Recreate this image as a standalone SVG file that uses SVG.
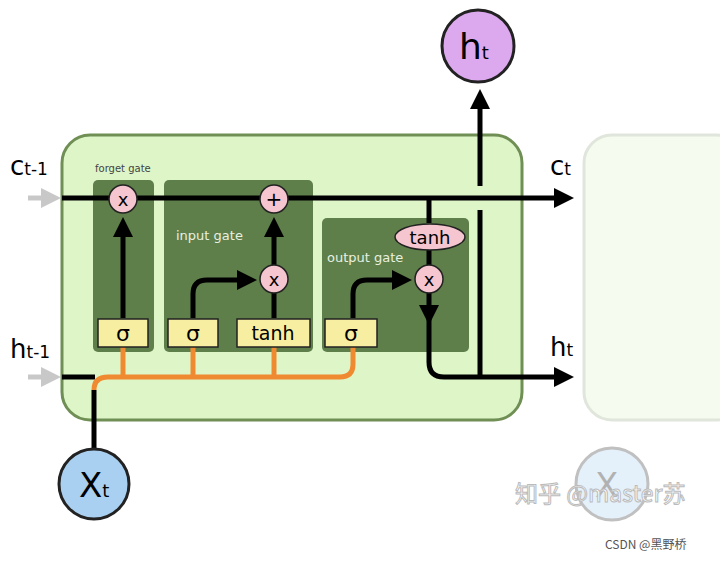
<svg xmlns="http://www.w3.org/2000/svg" width="720" height="562" viewBox="0 0 720 562">
<defs>
<marker id="ah" markerWidth="4" markerHeight="4" refX="2.2" refY="2" orient="auto" markerUnits="strokeWidth"><path d="M0,0 L4,2 L0,4 z" fill="#000"/></marker>
<marker id="ag" markerWidth="4" markerHeight="4" refX="2.2" refY="2" orient="auto" markerUnits="strokeWidth"><path d="M0,0 L4,2 L0,4 z" fill="#c8c8c8"/></marker>
</defs>
<style>
.t{font-family:"DejaVu Sans","Noto Sans",sans-serif}
.panel{fill:#5f7f4a}
.op{fill:#f5c6cf;stroke:#222;stroke-width:1.5}
.box{fill:#f7eea2;stroke:#222;stroke-width:1.5}
.k{stroke:#000;stroke-width:5;fill:none}
.o{stroke:#f08a30;stroke-width:5;fill:none}
.lbl{font-size:13px;fill:#e8f0e0}
</style>
<rect width="720" height="562" fill="#fff"/>
<g id="next" opacity="0.3">
<rect x="584" y="135" width="160" height="285" rx="28" fill="#dff5c8" stroke="#9ab08a" stroke-width="3"/>
<circle cx="612" cy="484" r="36" fill="#a9d0f0" stroke="#333" stroke-width="3"/>
<text class="t" x="595" y="497" font-size="34">X</text>
</g>
<g id="cell">
<rect x="62" y="135" width="460" height="285" rx="28" fill="#def5c8" stroke="#6f8f55" stroke-width="3"/>
<rect class="panel" x="93" y="180" width="61" height="172" rx="5"/>
<rect class="panel" x="164" y="180" width="149" height="172" rx="5"/>
<rect class="panel" x="322" y="218" width="147" height="134" rx="5"/>
<text class="t" x="95" y="172" font-size="10" fill="#444">forget gate</text>
<text class="t lbl" x="176" y="240">input gate</text>
<text class="t lbl" x="327" y="262">output gate</text>
</g>
<g id="connectors">
<line class="k" x1="62" y1="198" x2="565" y2="198" marker-end="url(#ah)"/>
<line x1="28" y1="198" x2="52" y2="198" stroke="#c8c8c8" stroke-width="5" marker-end="url(#ag)"/>
<line x1="28" y1="377" x2="52" y2="377" stroke="#c8c8c8" stroke-width="5" marker-end="url(#ag)"/>
<line class="k" x1="62" y1="377" x2="95" y2="377"/>
<line class="k" x1="123" y1="318" x2="123" y2="226" marker-end="url(#ah)"/>
<path class="k" d="M193,318 V294 Q193,280 207,280 H248" marker-end="url(#ah)"/>
<line class="k" x1="274" y1="318" x2="274" y2="293"/>
<line class="k" x1="274" y1="265" x2="274" y2="226" marker-end="url(#ah)"/>
<path class="k" d="M353,318 V294 Q353,280 367,280 H403" marker-end="url(#ah)"/>
<line class="k" x1="429" y1="198" x2="429" y2="223"/>
<line class="k" x1="429" y1="249" x2="429" y2="265"/>
<line class="k" x1="429" y1="293" x2="429" y2="316" marker-end="url(#ah)"/>
<path class="k" d="M429,316 V362 Q429,377 444,377 H565" marker-end="url(#ah)"/>
<line class="k" x1="480" y1="377" x2="480" y2="210"/>
<line class="k" x1="480" y1="186" x2="480" y2="98" marker-end="url(#ah)"/>
<line class="k" x1="94" y1="448" x2="94" y2="390"/>
<path class="o" d="M94,390 Q94,377 108,377 H340 Q353,377 353,364 V346"/>
<line class="o" x1="123" y1="377" x2="123" y2="346"/>
<line class="o" x1="193" y1="377" x2="193" y2="346"/>
<line class="o" x1="274" y1="377" x2="274" y2="346"/>
</g>
<g id="ops">
<circle class="op" cx="123" cy="199" r="14"/><text class="t" x="123" y="206" font-size="18" text-anchor="middle">x</text>
<circle class="op" cx="274" cy="199" r="14"/><text class="t" x="274" y="206" font-size="20" text-anchor="middle">+</text>
<circle class="op" cx="274" cy="279" r="14"/><text class="t" x="274" y="286" font-size="18" text-anchor="middle">x</text>
<circle class="op" cx="429" cy="279" r="14"/><text class="t" x="429" y="286" font-size="18" text-anchor="middle">x</text>
<ellipse class="op" cx="430" cy="237" rx="35" ry="13"/><text class="t" x="430" y="244" font-size="18" text-anchor="middle">tanh</text>
</g>
<g id="boxes">
<rect class="box" x="98" y="319" width="50" height="28"/><text class="t" x="123" y="341" font-size="22" text-anchor="middle">σ</text>
<rect class="box" x="168" y="319" width="50" height="28"/><text class="t" x="193" y="341" font-size="22" text-anchor="middle">σ</text>
<rect class="box" x="237" y="319" width="73" height="28"/><text class="t" x="273" y="340" font-size="19" text-anchor="middle">tanh</text>
<rect class="box" x="325" y="319" width="52" height="28"/><text class="t" x="351" y="341" font-size="22" text-anchor="middle">σ</text>
</g>
<g id="xt">
<circle cx="94" cy="484" r="35" fill="#a9d0f0" stroke="#222" stroke-width="3"/>
<text class="t" x="79" y="497" font-size="34">X<tspan font-size="18">t</tspan></text>
</g>
<g id="ht">
<circle cx="478" cy="46" r="36" fill="#dca8ee" stroke="#222" stroke-width="3"/>
<text class="t" x="459" y="59" font-size="36">h<tspan font-size="18">t</tspan></text>
</g>
<g id="labels" class="t">
<text x="10" y="175" font-size="26">c<tspan font-size="17">t-1</tspan></text>
<text x="10" y="358" font-size="26">h<tspan font-size="17">t-1</tspan></text>
<text x="550" y="175" font-size="26">c<tspan font-size="17">t</tspan></text>
<text x="550" y="356" font-size="26">h<tspan font-size="17">t</tspan></text>
</g>
<text x="515" y="502" font-family="'Noto Sans CJK SC',sans-serif" font-size="23" fill="#fff" stroke="#bbb" stroke-width="1">知乎 @master苏</text>
<text x="605" y="549" font-family="'Noto Sans CJK SC',sans-serif" font-size="12" fill="#555">CSDN @黑野桥</text>
</svg>
